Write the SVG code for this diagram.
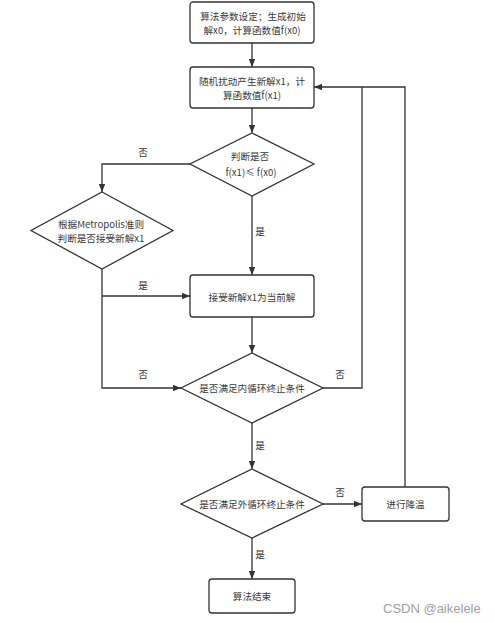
<svg xmlns="http://www.w3.org/2000/svg" width="495" height="623" viewBox="0 0 495 623">
<style>
.node{fill:#fff;stroke:#333;stroke-width:1.3}
.t{font-family:"Noto Sans CJK SC","Noto Sans",sans-serif;font-size:9.6px;fill:#3a3a3a;text-anchor:middle}
.lbl{font-family:"Noto Sans CJK SC","Noto Sans",sans-serif;font-size:9.6px;fill:#333;text-anchor:middle}
.c{fill:none;stroke:#333;stroke-width:1.3}
.wm{font-family:"Liberation Sans",Arial,sans-serif;font-size:13px;fill:#a0a0a0}
</style>
<defs>
<marker id="a" viewBox="0 0 10 8" refX="10" refY="4" markerWidth="8" markerHeight="6.4" markerUnits="userSpaceOnUse" orient="auto">
<path d="M0,0 L10,4 L0,8 Z" fill="#333"/>
</marker>
</defs>
<rect width="495" height="623" fill="#fff"/>
<g id="connectors">
<path class="c" d="M252,43 V67" marker-end="url(#a)"/>
<path class="c" d="M252,108 V133" marker-end="url(#a)"/>
<path class="c" d="M190,164 H102 V192" marker-end="url(#a)"/>
<path class="c" d="M252,196 V275" marker-end="url(#a)"/>
<path class="c" d="M102,269 V388 H181" marker-end="url(#a)"/>
<path class="c" d="M102,296 H190" marker-end="url(#a)"/>
<path class="c" d="M252,317 V353" marker-end="url(#a)"/>
<path class="c" d="M323,388 H362 V87"/>
<path class="c" d="M405,487 V87 H314" marker-end="url(#a)"/>
<path class="c" d="M252,423 V469" marker-end="url(#a)"/>
<path class="c" d="M323,504 H362" marker-end="url(#a)"/>
<path class="c" d="M252,538 V579" marker-end="url(#a)"/>
<text class="lbl" x="143" y="156">否</text>
<text class="lbl" x="260" y="235">是</text>
<text class="lbl" x="143" y="289">是</text>
<text class="lbl" x="143" y="378">否</text>
<text class="lbl" x="340" y="378">否</text>
<text class="lbl" x="260" y="449">是</text>
<text class="lbl" x="340" y="496">否</text>
<text class="lbl" x="260" y="558">是</text>
</g>
<g id="n1">
<rect class="node" x="190" y="2" width="124" height="41" rx="3"/>
<text class="t" x="253" y="20">算法参数设定；生成初始</text>
<text class="t" x="252" y="34">解x0，计算函数值f(x0)</text>
</g>
<g id="n2">
<rect class="node" x="190" y="67" width="124" height="41" rx="3"/>
<text class="t" x="252" y="84.5">随机扰动产生新解x1，计</text>
<text class="t" x="252" y="98.5">算函数值f(x1)</text>
</g>
<g id="d1">
<polygon class="node" points="252,133 314,164 252,196 190,164"/>
<text class="t" x="250" y="160">判断是否</text>
<text class="t" x="251" y="175.5">f(x1)≤ f(x0)</text>
</g>
<g id="d2">
<polygon class="node" points="102,192 173,230.5 102,269 31,230.5"/>
<text class="t" x="101" y="228">根据Metropolis准则</text>
<text class="t" x="101" y="242">判断是否接受新解x1</text>
</g>
<g id="n3">
<rect class="node" x="190" y="275" width="124" height="42" rx="3"/>
<text class="t" x="252" y="300.5">接受新解x1为当前解</text>
</g>
<g id="d3">
<polygon class="node" points="252,353 323,388 252,423 181,388"/>
<text class="t" x="252" y="391.5">是否满足内循环终止条件</text>
</g>
<g id="d4">
<polygon class="node" points="252,469 323,504 252,538 181,504"/>
<text class="t" x="252" y="507.5">是否满足外循环终止条件</text>
</g>
<g id="n5">
<rect class="node" x="362" y="487" width="87" height="34" rx="3"/>
<text class="t" x="405.5" y="507.5">进行降温</text>
</g>
<g id="n6">
<rect class="node" x="209" y="579" width="86" height="34" rx="3"/>
<text class="t" x="252" y="599.5">算法结束</text>
</g>
<text class="wm" x="383" y="612.5">CSDN @aikelele</text>
</svg>
